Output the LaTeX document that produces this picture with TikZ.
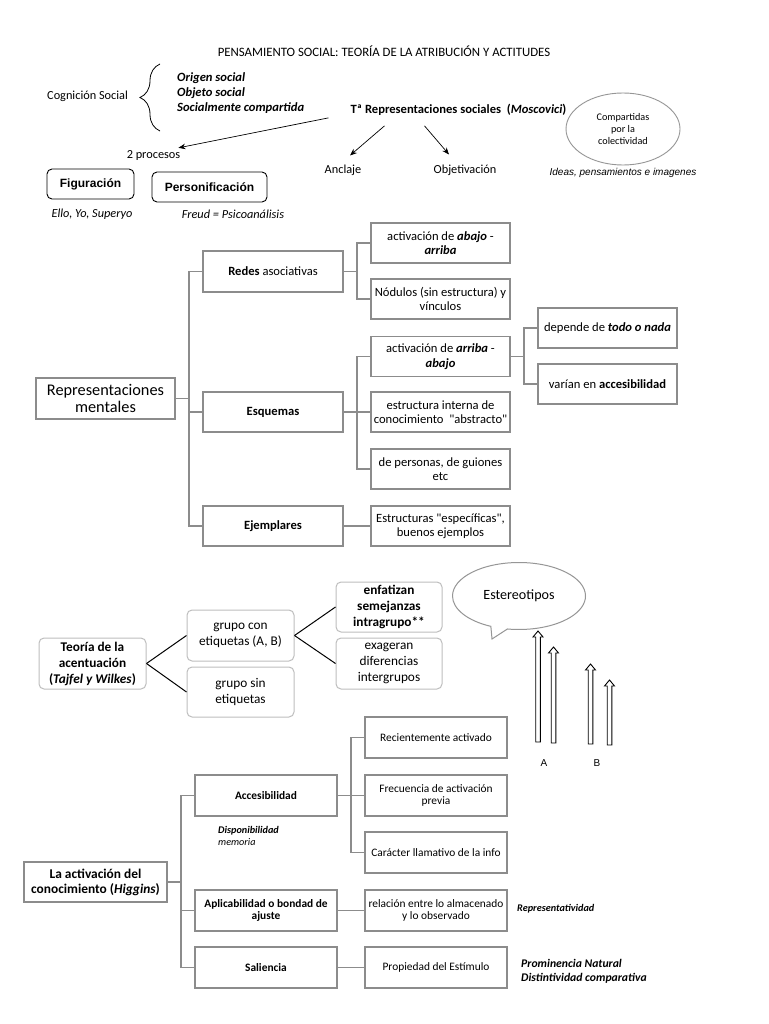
\documentclass[tikz,border=0pt]{standalone}
\usepackage{fontspec}
\setmainfont{Carlito}[Ligatures=TeXOff]
\newfontfamily\arialf{Liberation Sans}
\usetikzlibrary{arrows.meta,shapes.geometric,shapes.callouts,decorations.pathreplacing,calc}
\definecolor{boxgray}{RGB}{140,140,140}
\definecolor{rgray}{RGB}{190,190,190}
\definecolor{egray}{RGB}{150,150,150}
\newcommand\fstitle{\fontsize{12.8}{15}\selectfont}
\newcommand\fsmid{\fontsize{12.3}{15}\selectfont}
\newcommand\fsmidb{\fontsize{12.6}{15}\selectfont}
\newcommand\fsbox{\fontsize{12.6}{14.3}\selectfont}
\newcommand\fsbig{\fontsize{16.3}{16.3}\selectfont}
\newcommand\fshig{\fontsize{11.4}{12}\selectfont}
\newcommand\fshigb{\fontsize{13.4}{15}\selectfont}
\newcommand\fsacc{\fontsize{13.3}{16}\selectfont}
\newcommand\fsell{\fontsize{10.2}{11.6}\selectfont}
\tikzset{
  sqbox/.style={draw=boxgray, line width=1.3pt, align=center, inner sep=1pt, font=\fsbox},
  hbox/.style={draw=boxgray, line width=1.3pt, align=center, inner sep=1pt, font=\fshig, minimum width=142pt, minimum height=41pt},
  rbox/.style={draw=rgray, line width=1pt, rounded corners=5pt, align=center, inner sep=1pt, font=\fsacc, minimum width=107pt, minimum height=51pt},
  conn/.style={draw=boxgray, line width=1.3pt},
  bline/.style={draw=black, line width=1pt},
  arrowline/.style={-{Stealth[length=7pt,width=5.5pt]}, line width=0.7pt},
  pbox/.style={draw=black, rounded corners=5pt, line width=0.9pt, minimum height=30pt, font=\arialf\bfseries\fontsize{12}{13}\selectfont},
}
\begin{document}
\begin{tikzpicture}[x=1pt,y=-1pt]
\useasboundingbox[fill=white] (0,0) rectangle (768,1024);

% ---------- Section 1 ----------
\node[font=\fstitle] (title) at (384,51) {PENSAMIENTO SOCIAL: TEORÍA DE LA ATRIBUCIÓN Y ACTITUDES};
\node[font=\fsmid, anchor=west, inner sep=0pt] (cog) at (47,96) {Cognición Social};
\draw[decorate, decoration={brace, amplitude=20pt, aspect=0.5}, line width=0.8pt] (160,131) -- (160,64);
\node[font=\fsmidb\bfseries\itshape, align=left, anchor=west, inner sep=0pt] (orig) at (177,93) {Origen social\\Objeto social\\Socialmente compartida};
\node[font=\fsmidb\bfseries, inner sep=0pt] (tr) at (458.5,110) {Tª Representaciones sociales\ \ (\textit{Moscovici})};
\node[font=\fsmid, inner sep=0pt] (dos) at (153.5,156) {2 procesos};
\node[font=\fsmid, inner sep=0pt] (anc) at (343,170) {Anclaje};
\node[font=\fsmid, inner sep=0pt] (obj) at (465,170) {Objetivación};
\node[ellipse, draw=egray, line width=0.9pt, minimum width=114pt, minimum height=72pt, align=center, font=\fsell, inner sep=0pt] (comp) at (623,129) {Compartidas\\por la\\colectividad};
\node[font=\arialf\fontsize{10}{12}\selectfont\itshape, inner sep=0pt] (ideas) at (623,173) {Ideas, pensamientos e imagenes};
\node[pbox, minimum width=87pt] (fig) at (90.5,184) {Figuración};
\node[pbox, minimum width=115pt] (pers) at (209.5,187) {Personificación};
\node[font=\fsmid\itshape, inner sep=0pt] (ello) at (92,214) {Ello, Yo, Superyo};
\node[font=\fsmid\itshape, inner sep=0pt] (freud) at (233,214) {Freud = Psicoanálisis};

\draw[arrowline] ([xshift=-22pt,yshift=-2pt]tr.south west) -- ([xshift=-2pt,yshift=3pt]dos.north east);
\draw[arrowline] ([xshift=-74pt,yshift=-10pt]tr.south) -- ([xshift=7pt,yshift=9pt]anc.north);
\draw[arrowline] ([xshift=-34pt,yshift=-10pt]tr.south) -- ([xshift=-16pt,yshift=10pt]obj.north);

% ---------- Section 2 ----------
\node[sqbox, minimum width=139pt, minimum height=41pt, font=\fsbig] (rm) at (105.5,398.5) {Representaciones\\mentales};
\node[sqbox, minimum width=140pt, minimum height=41pt] (redes) at (273,271.5) {\textbf{Redes} asociativas};
\node[sqbox, minimum width=140pt, minimum height=40pt] (esq) at (273,412) {\textbf{Esquemas}};
\node[sqbox, minimum width=140pt, minimum height=40pt] (ejemp) at (273,526) {\textbf{Ejemplares}};
\node[sqbox, minimum width=139pt, minimum height=40pt] (ab) at (440.5,243) {activación de \textbf{\textit{abajo}} -\\\textbf{\textit{arriba}}};
\node[sqbox, minimum width=139pt, minimum height=40pt] (nod) at (440.5,299) {Nódulos (sin estructura) y\\vínculos};
\node[sqbox, minimum width=139pt, minimum height=40pt] (arr) at (440.5,356.5) {activación de \textbf{\textit{arriba}} -\\\textbf{\textit{abajo}}};
\node[sqbox, minimum width=139pt, minimum height=40pt] (est) at (440.5,412) {estructura interna de\\conocimiento\ \ "abstracto"};
\node[sqbox, minimum width=139pt, minimum height=40pt] (per) at (440.5,469) {de personas, de guiones\\etc};
\node[sqbox, minimum width=139pt, minimum height=40pt] (estr) at (440.5,526) {Estructuras "específicas",\\buenos ejemplos};
\node[sqbox, minimum width=139pt, minimum height=40pt] (dep) at (607.5,328) {depende de \textbf{\textit{todo o nada}}};
\node[sqbox, minimum width=139pt, minimum height=40pt] (var) at (607.5,384) {varían en \textbf{accesibilidad}};

\coordinate (t1) at (189,398.5);
\draw[conn] (rm.east) -- (t1);
\draw[conn] (t1) |- (redes.west);
\draw[conn] (t1) |- (esq.west);
\draw[conn] (t1) |- (ejemp.west);
\coordinate (t2) at (357,271.5);
\draw[conn] (redes.east) -- (t2);
\draw[conn] (t2) |- (ab.west);
\draw[conn] (t2) |- (nod.west);
\coordinate (t3) at (357,412);
\draw[conn] (esq.east) -- (est.west);
\draw[conn] (t3) |- (arr.west);
\draw[conn] (t3) |- (per.west);
\draw[conn] (ejemp.east) -- (estr.west);
\coordinate (t4) at (524,356.5);
\draw[conn] (arr.east) -- (t4);
\draw[conn] (t4) |- (dep.west);
\draw[conn] (t4) |- (var.west);

% ---------- Section 3 ----------
\node[rbox] (teo) at (92.5,663.5) {\textbf{Teoría de la}\\\textbf{acentuación}\\\textbf{(\textit{Tajfel y Wilkes})}};
\node[rbox] (gce) at (240.5,635.5) {grupo con\\etiquetas (A, B)};
\node[rbox, minimum height=50pt] (gse) at (240.5,692) {grupo sin\\etiquetas};
\node[rbox, minimum width=106pt, minimum height=50pt] (enf) at (389,607) {\textbf{enfatizan}\\\textbf{semejanzas}\\\textbf{intragrupo**}};
\node[rbox, minimum width=106pt] (exa) at (389,663.5) {exageran\\diferencias\\intergrupos};
\draw[bline] (teo.east) -- (gce.west);
\draw[bline] (teo.east) -- (gse.west);
\draw[bline] (gce.east) -- (enf.west);
\draw[bline] (gce.east) -- (exa.west);

\node[ellipse callout, draw=egray, line width=1pt, fill=white, minimum width=133pt, minimum height=67pt, callout absolute pointer={(492,639)}, font=\fontsize{14.1}{16}\selectfont] (ster) at (519,596) {Estereotipos};

\foreach \xx/\bb/\tp in {538/742/631, 553.5/743/647, 590.5/744/664, 609.5/745/680} {
  \draw[line width=0.9pt] (\xx-2.3,\bb) -- (\xx-2.3,\tp+6) -- (\xx-5,\tp+6) -- (\xx,\tp) -- (\xx+5,\tp+6) -- (\xx+2.3,\tp+6) -- (\xx+2.3,\bb) -- cycle;
}
\node[font=\arialf\fontsize{10}{12}\selectfont] (la) at (544,763) {A};
\node[font=\arialf\fontsize{10}{12}\selectfont] (lb) at (597,763) {B};

% ---------- Section 4 ----------
\node[hbox, minimum width=143pt, minimum height=40pt, font=\fshigb] (act) at (95.5,882) {\textbf{La activación del}\\\textbf{conocimiento (\textit{Higgins})}};
\node[hbox] (acc) at (266,795.5) {\textbf{Accesibilidad}};
\node[hbox] (apl) at (266,910.5) {\textbf{Aplicabilidad o bondad de}\\\textbf{ajuste}};
\node[hbox] (sal) at (266,967.5) {\textbf{Saliencia}};
\node[hbox] (rec) at (436,737.5) {Recientemente activado};
\node[hbox] (fre) at (436,795.5) {Frecuencia de activación\\previa};
\node[hbox] (car) at (436,852.5) {Carácter llamativo de la info};
\node[hbox] (rel) at (436,910.5) {relación entre lo almacenado\\y lo observado};
\node[hbox] (prop) at (436,967.5) {Propiedad del Estímulo};

\coordinate (h1) at (181,882);
\draw[conn] (act.east) -- (h1);
\draw[conn] (h1) |- (acc.west);
\draw[conn] (h1) |- (apl.west);
\draw[conn] (h1) |- (sal.west);
\coordinate (h2) at (351,795.5);
\draw[conn] (acc.east) -- (fre.west);
\draw[conn] (h2) |- (rec.west);
\draw[conn] (h2) |- (car.west);
\draw[conn] (apl.east) -- (rel.west);
\draw[conn] (sal.east) -- (prop.west);

\node[font=\fontsize{10.2}{11.5}\selectfont, align=left, anchor=west, inner sep=0pt] (disp) at (218,836) {\textbf{\textit{Disponibilidad}}\\\textit{memoria}};
\node[font=\fontsize{10.2}{12}\selectfont\bfseries\itshape, anchor=west, inner sep=0pt] (repr) at (517,909) {Representatividad};
\node[font=\fontsize{11.7}{14}\selectfont\bfseries\itshape, align=left, anchor=west, inner sep=0pt] (prom) at (521,971) {Prominencia Natural\\Distintividad comparativa};
\end{tikzpicture}
\end{document}
